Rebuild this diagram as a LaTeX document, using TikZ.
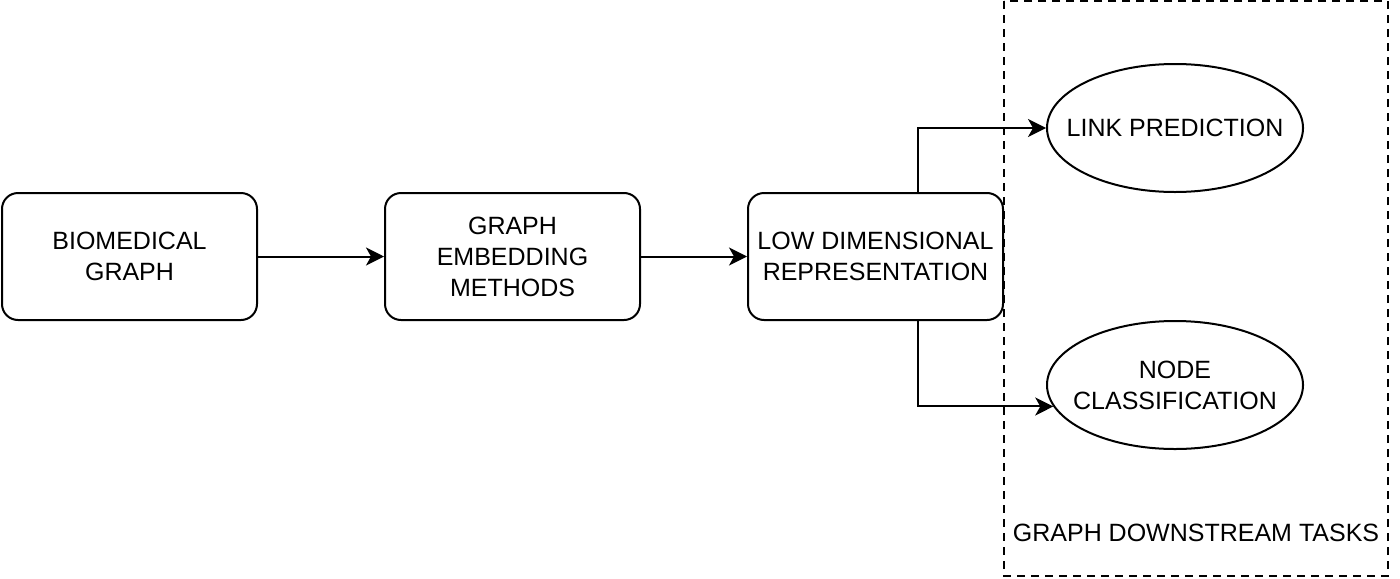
\documentclass[tikz,border=0pt]{standalone}
\usepackage{fontspec}
\setmainfont{Liberation Sans}
\usetikzlibrary{shapes.geometric,arrows.meta}
\begin{document}
\begin{tikzpicture}[x=0.5pt,y=-0.5pt,
  every node/.style={font=\fontsize{12.5pt}{15.5pt}\selectfont, align=center},
  boxstyle/.style={draw, line width=1pt, rounded corners=8pt, minimum width=127.5pt, minimum height=63.5pt, inner sep=0pt},
  ellstyle/.style={draw, ellipse, line width=1pt, minimum width=128pt, minimum height=64pt, inner sep=0pt},
  arr/.style={line width=1pt, -{Stealth[length=9pt,width=9pt,inset=2.5pt]}},
  dashbox/.style={draw, line width=0.9pt, dash pattern=on 4pt off 3pt}]
\useasboundingbox (0,0) rectangle (1400,578);
\node[boxstyle] (bg) at (129.5,256.5) {BIOMEDICAL\\GRAPH};
\node[boxstyle] (ge) at (512.5,256.5) {GRAPH\\EMBEDDING\\METHODS};
\node[boxstyle] (ld) at (875.5,256.5) {LOW DIMENSIONAL\\REPRESENTATION};
\draw[dashbox] (1004,1) rectangle (1388,576);
\node[ellstyle] (lp) at (1175,128) {};
\node (lpt) at (lp.center) {LINK PREDICTION};
\node[ellstyle] (nc) at (1175,385) {};
\node (nct) at (nc.center) {NODE\\CLASSIFICATION};
\node (tl) at (1196,533) {GRAPH DOWNSTREAM TASKS};
\coordinate (jx) at (918,0);
\draw[arr] (bg) -- (ge);
\draw[arr] (ge) -- (ld);
\draw[arr] (ld.north -| jx) |- (lp.west);
\draw[arr] (ld.south -| jx) |- (nc.190);
\end{tikzpicture}
\end{document}
